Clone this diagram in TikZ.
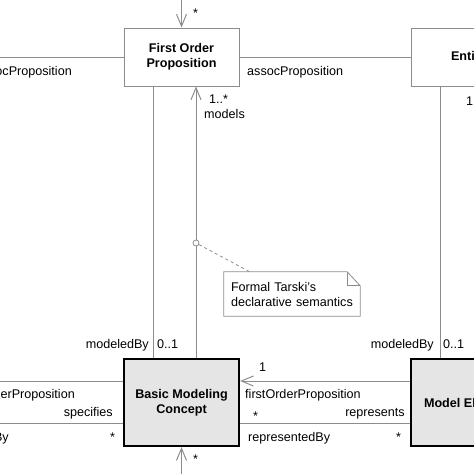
\documentclass[tikz,border=0pt]{standalone}
\usepackage{fontspec}
\setmainfont{Liberation Sans}
\usetikzlibrary{arrows.meta,calc,positioning}
\definecolor{umlgray}{gray}{0.55}
\definecolor{conceptfill}{gray}{0.9}

\begin{document}
\begin{tikzpicture}[
                    x=1pt, y=-1pt,
                    >={Straight Barb[length=12pt,width=10pt]},
                    class/.style={draw=umlgray, line width=1pt, fill=white, minimum width=115pt,
                                  minimum height=58pt, align=center, inner sep=0pt,
                                  font=\fontsize{12.6}{15}\selectfont\bfseries},
                    concept/.style={class, draw=black, line width=2.2pt, fill=conceptfill, minimum height=87pt},
                    assoc/.style={draw=umlgray, line width=1pt},
                    role/.style={inner sep=0pt, font=\fontsize{12.6}{15}\selectfont}]

                \useasboundingbox (0,0) rectangle (474,474);
                \clip (0,0) rectangle (474,474);

                % classes
                \draw(181.5,57) node[class] (FOP) {First Order\\Proposition};
                \draw(468.5,57) node[class] (ENT) {Entity};
                \draw(181.5,402.5) node[concept] (BMC) {Basic Modeling\\Concept};
                \draw(468.5,402.5) node[concept] (ME) {Model Element};

                % free ends and line positions
                \coordinate (top) at (181.5,0);
                \coordinate (bot) at (181.5,474);
                \coordinate (left) at (0,57);
                \coordinate (mbL) at (153,0);
                \coordinate (mo) at (196,0);
                \coordinate (mbR) at (440,0);
                \coordinate (h1) at (0,381);
                \coordinate (h2) at (0,423);

                % associations
                \draw[assoc] (left) -- (FOP.west);
                \draw[assoc] (FOP) -- (ENT);
                \draw[assoc,->] (top) -- (FOP.north);
                \draw[assoc,->] (bot) -- (BMC.south);
                \draw[assoc] (FOP.south -| mbL) -- (BMC.north -| mbL);
                \draw[assoc,->] (BMC.north -| mo) -- (FOP.south -| mo);
                \draw[assoc] (ENT.south -| mbR) -- (ME.north -| mbR);
                \draw[assoc] (h1) -- (BMC.west |- h1);
                \draw[assoc] (h2) -- (BMC.west |- h2);
                \draw[assoc,->] (ME.west |- h1) -- (BMC.east |- h1);
                \draw[assoc] (BMC.east |- h2) -- (ME.west |- h2);

                % note
                \draw(196,243) node[circle, draw=umlgray, fill=white, line width=0.8pt,
                                    inner sep=0pt, minimum size=6pt] (pin) {};
                \draw(292,294) node[role, minimum width=136pt, minimum height=44pt,
                                    text width=122pt, align=left] (note)
                    {Formal Tarski's\\declarative semantics};
                \draw[umlgray, line width=0.8pt] (note.north west) -- ($(note.north east)+(-13,0)$)
                    -- ($(note.north east)+(0,14)$) -- (note.south east) -- (note.south west) -- cycle;
                \draw[umlgray, line width=0.8pt] ($(note.north east)+(-13,0)$) |- ($(note.north east)+(0,14)$);
                \coordinate (notepin) at ($(note.north west)+(26,0)$);
                \draw[umlgray, dashed, line width=0.8pt] (pin) -- (notepin);

                % role names and multiplicities
                \draw(72,75) node[role, anchor=base east] (r1) {assocProposition};
                \draw(247,75) node[role, anchor=base west] (r2) {assocProposition};
                \draw(193,17) node[role, anchor=base west] (m1) {*};
                \draw(209,103) node[role, anchor=base west] (m2) {1..*};
                \draw(204,118) node[role, anchor=base west] (r3) {models};
                \draw(466,105) node[role, anchor=base west] (m3) {1};
                \draw(149,348) node[role, anchor=base east] (r4) {modeledBy};
                \draw(157,348) node[role, anchor=base west] (m4) {0..1};
                \draw(434,348) node[role, anchor=base east] (r5) {modeledBy};
                \draw(443,348) node[role, anchor=base west] (m5) {0..1};
                \draw(259,371) node[role, anchor=base west] (m6) {1};
                \draw(245,398) node[role, anchor=base west] (r6) {firstOrderProposition};
                \draw(253,420) node[role, anchor=base west] (m7) {*};
                \draw(405,416) node[role, anchor=base east] (r7) {represents};
                \draw(248,441) node[role, anchor=base west] (r8) {representedBy};
                \draw(396,441) node[role, anchor=base west] (m8) {*};
                \draw(75,398) node[role, anchor=base east] (r9) {firstOrderProposition};
                \draw(113,416) node[role, anchor=base east] (r10) {specifies};
                \draw(110,441) node[role, anchor=base west] (m9) {*};
                \draw(9,441) node[role, anchor=base east] (r11) {specifiedBy};
                \draw(193,463) node[role, anchor=base west] (m10) {*};

            \end{tikzpicture}
\end{document}
